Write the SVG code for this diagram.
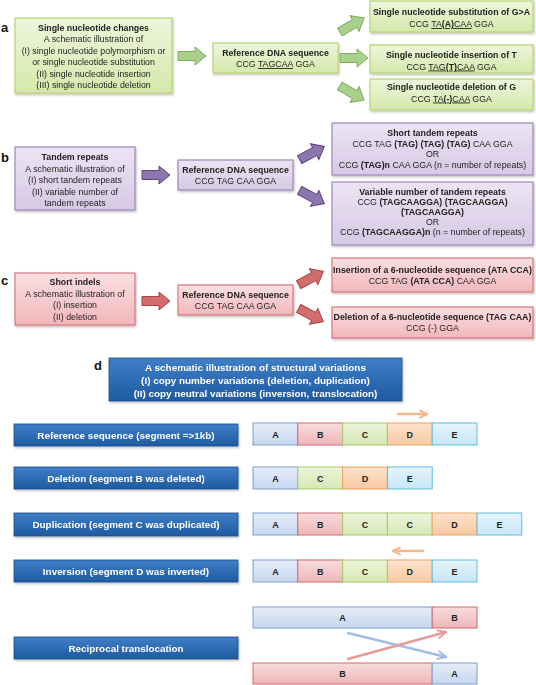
<svg xmlns="http://www.w3.org/2000/svg" width="536" height="685" viewBox="0 0 536 685">
<defs>
<linearGradient id="gG" x1="0" y1="0" x2="0" y2="1"><stop offset="0" stop-color="#eef6dc"/><stop offset="1" stop-color="#d4e8ab"/></linearGradient>
<linearGradient id="gP" x1="0" y1="0" x2="0" y2="1"><stop offset="0" stop-color="#ece4f3"/><stop offset="1" stop-color="#d6c9e4"/></linearGradient>
<linearGradient id="gR" x1="0" y1="0" x2="0" y2="1"><stop offset="0" stop-color="#fbdfe0"/><stop offset="1" stop-color="#f1b7ba"/></linearGradient>
<linearGradient id="gB" x1="0" y1="0" x2="0" y2="1"><stop offset="0" stop-color="#3f7fc8"/><stop offset="1" stop-color="#1f5aa0"/></linearGradient>
<linearGradient id="sA" x1="0" y1="0" x2="0" y2="1"><stop offset="0" stop-color="#e6edf8"/><stop offset="1" stop-color="#c6d6ee"/></linearGradient>
<linearGradient id="sB" x1="0" y1="0" x2="0" y2="1"><stop offset="0" stop-color="#f8dcdd"/><stop offset="1" stop-color="#eeb6b8"/></linearGradient>
<linearGradient id="sC" x1="0" y1="0" x2="0" y2="1"><stop offset="0" stop-color="#edf5dc"/><stop offset="1" stop-color="#d6e8b4"/></linearGradient>
<linearGradient id="sD" x1="0" y1="0" x2="0" y2="1"><stop offset="0" stop-color="#fde3cd"/><stop offset="1" stop-color="#f7c9a2"/></linearGradient>
<linearGradient id="sE" x1="0" y1="0" x2="0" y2="1"><stop offset="0" stop-color="#e5f4fb"/><stop offset="1" stop-color="#c7e6f5"/></linearGradient>
<filter id="sh" x="-10%" y="-10%" width="120%" height="130%"><feDropShadow dx="1" dy="1.5" stdDeviation="1" flood-color="#000" flood-opacity="0.25"/></filter>
<path id="barrow" d="M-14,-4.5 H3 V-9 L14,0 L3,9 V4.5 H-14 Z"/>
<marker id="mO" viewBox="0 0 10 10" refX="9" refY="5" markerWidth="9" markerHeight="9" orient="auto" markerUnits="userSpaceOnUse"><path d="M1,1 L9,5 L1,9" fill="none" stroke="#f5b88a" stroke-width="2.2" stroke-linecap="round" stroke-linejoin="round"/></marker>
<marker id="mBl" viewBox="0 0 10 10" refX="9" refY="5" markerWidth="10" markerHeight="10" orient="auto" markerUnits="userSpaceOnUse"><path d="M1,1 L9,5 L1,9" fill="none" stroke="#a3bde2" stroke-width="1.8" stroke-linecap="round" stroke-linejoin="round"/></marker>
<marker id="mRd" viewBox="0 0 10 10" refX="9" refY="5" markerWidth="10" markerHeight="10" orient="auto" markerUnits="userSpaceOnUse"><path d="M1,1 L9,5 L1,9" fill="none" stroke="#e89a9a" stroke-width="1.8" stroke-linecap="round" stroke-linejoin="round"/></marker>
</defs>
<style>
text{font-family:"Liberation Sans",Arial,sans-serif;font-size:8.8px;fill:#222;text-anchor:middle}
.b{font-weight:bold}
.lbl{font-size:13px;font-weight:bold;text-anchor:start;fill:#111}
.g{fill:url(#gG);stroke:#b7d473;stroke-width:1.2}
.p{fill:url(#gP);stroke:#9f88bd;stroke-width:1.2}
.r{fill:url(#gR);stroke:#d8777d;stroke-width:1.2}
.bl{fill:url(#gB);stroke:#1b4c88;stroke-width:0.8}
.wt{fill:#fff;font-weight:bold;font-size:9.9px}
.ag{fill:#a9d18e;stroke:#7ead55;stroke-width:1}
.ap{fill:#8d75ad;stroke:#5b4779;stroke-width:1}
.ar{fill:#d26d6d;stroke:#a54545;stroke-width:1}
.sa{fill:url(#sA);stroke:#7d9ecf}
.sb{fill:url(#sB);stroke:#d2686d}
.sc{fill:url(#sC);stroke:#a7c96c}
.sd{fill:url(#sD);stroke:#eba465}
.se{fill:url(#sE);stroke:#5dbbe2}
.seg rect{stroke-width:1}
.seg text{font-weight:bold;font-size:9px}
.u{text-decoration:underline}
</style>

<!-- labels -->
<text class="lbl" x="1" y="32">a</text>
<text class="lbl" x="1" y="162">b</text>
<text class="lbl" x="1" y="285">c</text>
<text class="lbl" x="94" y="370">d</text>

<!-- section a -->
<g id="a-main" filter="url(#sh)">
<rect class="g" x="15" y="18" width="157" height="75"/>
<text class="b" x="93.5" y="30.5">Single nucleotide changes</text>
<text x="93.5" y="42">A schematic illustration of</text>
<text x="93.5" y="53.5">(I) single nucleotide polymorphism or</text>
<text x="93.5" y="65">or single nucleotide substitution</text>
<text x="93.5" y="76.5">(II) single nucleotide insertion</text>
<text x="93.5" y="88">(III) single nucleotide deletion</text>
</g>
<g id="a-ref" filter="url(#sh)">
<rect class="g" x="213" y="43" width="125" height="30"/>
<text class="b" x="275.5" y="56">Reference DNA sequence</text>
<text x="275.5" y="67">CCG <tspan class="u">TAGCAA</tspan> GGA</text>
</g>
<g id="a-out1" filter="url(#sh)">
<rect class="g" x="370" y="1" width="163" height="31"/>
<text class="b" x="451.5" y="15">Single nucleotide substitution of G&gt;A</text>
<text x="451.5" y="27">CCG <tspan class="u">TA<tspan class="b">(A)</tspan>CAA</tspan> GGA</text>
</g>
<g id="a-out2" filter="url(#sh)">
<rect class="g" x="370" y="45" width="163" height="28"/>
<text class="b" x="451.5" y="58">Single nucleotide insertion of T</text>
<text x="451.5" y="69.5">CCG <tspan class="u">TAG<tspan class="b">(T)</tspan>CAA</tspan> GGA</text>
</g>
<g id="a-out3" filter="url(#sh)">
<rect class="g" x="370" y="79" width="163" height="31"/>
<text class="b" x="451.5" y="90">Single nucleotide deletion of G</text>
<text x="451.5" y="101.5">CCG <tspan class="u">TA<tspan class="b">(-)</tspan>CAA</tspan> GGA</text>
</g>

<!-- section b -->
<g id="b-main" filter="url(#sh)">
<rect class="p" x="15" y="147" width="120" height="63"/>
<text class="b" x="75" y="160">Tandem repeats</text>
<text x="75" y="171.5">A schematic illustration of</text>
<text x="75" y="183">(I) short tandem repeats</text>
<text x="75" y="194.5">(II) variable number of</text>
<text x="75" y="206">tandem repeats</text>
</g>
<g id="b-ref" filter="url(#sh)">
<rect class="p" x="178" y="160" width="115" height="30"/>
<text class="b" x="235.5" y="173">Reference DNA sequence</text>
<text x="235.5" y="184">CCG TAG CAA GGA</text>
</g>
<g id="b-out1" filter="url(#sh)">
<rect class="p" x="332" y="123" width="201" height="52"/>
<text class="b" x="432.5" y="136">Short tandem repeats</text>
<text x="432.5" y="146.5">CCG TAG <tspan class="b">(TAG)</tspan> <tspan class="b">(TAG)</tspan> <tspan class="b">(TAG)</tspan> CAA GGA</text>
<text x="432.5" y="157">OR</text>
<text x="432.5" y="167.5">CCG <tspan class="b">(TAG)n</tspan> CAA GGA (n = number of repeats)</text>
</g>
<g id="b-out2" filter="url(#sh)">
<rect class="p" x="332" y="182" width="201" height="63"/>
<text class="b" x="432.5" y="195">Variable number of tandem repeats</text>
<text x="432.5" y="205">CCG <tspan class="b">(TAGCAAGGA)</tspan> <tspan class="b">(TAGCAAGGA)</tspan></text>
<text class="b" x="432.5" y="215">(TAGCAAGGA)</text>
<text x="432.5" y="225">OR</text>
<text x="432.5" y="235">CCG <tspan class="b">(TAGCAAGGA)n</tspan> (n = number of repeats)</text>
</g>

<!-- section c -->
<g id="c-main" filter="url(#sh)">
<rect class="r" x="15" y="273" width="120" height="52"/>
<text class="b" x="75" y="285">Short indels</text>
<text x="75" y="296.5">A schematic illustration of</text>
<text x="75" y="308">(I) insertion</text>
<text x="75" y="319.5">(II) deletion</text>
</g>
<g id="c-ref" filter="url(#sh)">
<rect class="r" x="178" y="285" width="115" height="30"/>
<text class="b" x="235.5" y="298">Reference DNA sequence</text>
<text x="235.5" y="309">CCG TAG CAA GGA</text>
</g>
<g id="c-out1" filter="url(#sh)">
<rect class="r" x="332" y="258" width="201" height="34"/>
<text class="b" x="432.5" y="273">Insertion of a 6-nucleotide sequence (ATA CCA)</text>
<text x="432.5" y="284">CCG TAG <tspan class="b">(ATA CCA)</tspan> CAA GGA</text>
</g>
<g id="c-out2" filter="url(#sh)">
<rect class="r" x="332" y="307" width="201" height="31"/>
<text class="b" x="432.5" y="320">Deletion of a 6-nucleotide sequence (TAG CAA)</text>
<text x="432.5" y="331">CCG (-) GGA</text>
</g>

<!-- block arrows -->
<g id="connectors-abc">
<use href="#barrow" class="ag" transform="translate(192,56)"/>
<use href="#barrow" class="ag" transform="translate(352,25) rotate(-30)"/>
<use href="#barrow" class="ag" transform="translate(354,58)"/>
<use href="#barrow" class="ag" transform="translate(352,93) rotate(30)"/>
<use href="#barrow" class="ap" transform="translate(156,175)"/>
<use href="#barrow" class="ap" transform="translate(312,153) rotate(-28)"/>
<use href="#barrow" class="ap" transform="translate(312,197) rotate(28)"/>
<use href="#barrow" class="ar" transform="translate(156,301)"/>
<use href="#barrow" class="ar" transform="translate(311,278) rotate(-28)"/>
<use href="#barrow" class="ar" transform="translate(311,315) rotate(28)"/>
</g>

<!-- section d -->
<g id="d-title" filter="url(#sh)">
<rect class="bl" x="109" y="358" width="293" height="43"/>
<text class="wt" x="255.5" y="370.5">A schematic illustration of structural variations</text>
<text class="wt" x="255.5" y="383.5">(I) copy number variations (deletion, duplication)</text>
<text class="wt" x="255.5" y="396.5">(II) copy neutral variations (inversion, translocation)</text>
</g>
<g id="d-ref-label" filter="url(#sh)">
<rect class="bl" x="14" y="424" width="224" height="22"/>
<text class="wt" x="126" y="438.5">Reference sequence (segment =&gt;1kb)</text>
</g>
<g id="d-del-label" filter="url(#sh)">
<rect class="bl" x="14" y="467" width="224" height="22"/>
<text class="wt" x="126" y="481.5">Deletion (segment B was deleted)</text>
</g>
<g id="d-dup-label" filter="url(#sh)">
<rect class="bl" x="14" y="513" width="224" height="23"/>
<text class="wt" x="126" y="528">Duplication (segment C was duplicated)</text>
</g>
<g id="d-inv-label" filter="url(#sh)">
<rect class="bl" x="14" y="560" width="224" height="22"/>
<text class="wt" x="126" y="574.5">Inversion (segment D was inverted)</text>
</g>
<g id="d-trans-label" filter="url(#sh)">
<rect class="bl" x="14" y="637" width="224" height="22"/>
<text class="wt" x="126" y="651.5">Reciprocal translocation</text>
</g>

<g id="bar-ref" class="seg">
<rect class="sa" x="253" y="423" width="44.8" height="22"/><text x="275.4" y="437.5">A</text>
<rect class="sb" x="297.8" y="423" width="44.8" height="22"/><text x="320.2" y="437.5">B</text>
<rect class="sc" x="342.6" y="423" width="44.8" height="22"/><text x="365" y="437.5">C</text>
<rect class="sd" x="387.4" y="423" width="44.8" height="22"/><text x="409.8" y="437.5">D</text>
<rect class="se" x="432.2" y="423" width="44.8" height="22"/><text x="454.6" y="437.5">E</text>
</g>
<g id="bar-del" class="seg">
<rect class="sa" x="253" y="467" width="44.8" height="22"/><text x="275.4" y="481.5">A</text>
<rect class="sc" x="297.8" y="467" width="44.8" height="22"/><text x="320.2" y="481.5">C</text>
<rect class="sd" x="342.6" y="467" width="44.8" height="22"/><text x="365" y="481.5">D</text>
<rect class="se" x="387.4" y="467" width="44.8" height="22"/><text x="409.8" y="481.5">E</text>
</g>
<g id="bar-dup" class="seg">
<rect class="sa" x="253" y="513" width="44.8" height="22"/><text x="275.4" y="527.5">A</text>
<rect class="sb" x="297.8" y="513" width="44.8" height="22"/><text x="320.2" y="527.5">B</text>
<rect class="sc" x="342.6" y="513" width="44.8" height="22"/><text x="365" y="527.5">C</text>
<rect class="sc" x="387.4" y="513" width="44.8" height="22"/><text x="409.8" y="527.5">C</text>
<rect class="sd" x="432.2" y="513" width="44.8" height="22"/><text x="454.6" y="527.5">D</text>
<rect class="se" x="477" y="513" width="44.8" height="22"/><text x="499.4" y="527.5">E</text>
</g>
<g id="bar-inv" class="seg">
<rect class="sa" x="253" y="560" width="44.8" height="22"/><text x="275.4" y="574.5">A</text>
<rect class="sb" x="297.8" y="560" width="44.8" height="22"/><text x="320.2" y="574.5">B</text>
<rect class="sc" x="342.6" y="560" width="44.8" height="22"/><text x="365" y="574.5">C</text>
<rect class="sd" x="387.4" y="560" width="44.8" height="22"/><text x="409.8" y="574.5">D</text>
<rect class="se" x="432.2" y="560" width="44.8" height="22"/><text x="454.6" y="574.5">E</text>
</g>
<g id="bar-trans-top" class="seg">
<rect class="sa" x="253" y="607" width="179.2" height="21"/><text x="342.6" y="621">A</text>
<rect class="sb" x="432.2" y="607" width="44.8" height="21"/><text x="454.6" y="621">B</text>
</g>
<g id="bar-trans-bottom" class="seg">
<rect class="sb" x="253" y="663" width="179.2" height="21"/><text x="342.6" y="677">B</text>
<rect class="sa" x="432.2" y="663" width="44.8" height="21"/><text x="454.6" y="677">A</text>
</g>

<g id="connectors-d" fill="none" stroke-linecap="round">
<line x1="398" y1="414" x2="427" y2="414" stroke="#f5b88a" stroke-width="2.5" marker-end="url(#mO)"/>
<line x1="423" y1="551" x2="393" y2="551" stroke="#f5b88a" stroke-width="2.5" marker-end="url(#mO)"/>
<line x1="348" y1="633" x2="446" y2="657" stroke="#a3bde2" stroke-width="2.4" marker-end="url(#mBl)"/>
<line x1="348" y1="659" x2="446" y2="632" stroke="#e89a9a" stroke-width="2.4" marker-end="url(#mRd)"/>
</g>
</svg>
